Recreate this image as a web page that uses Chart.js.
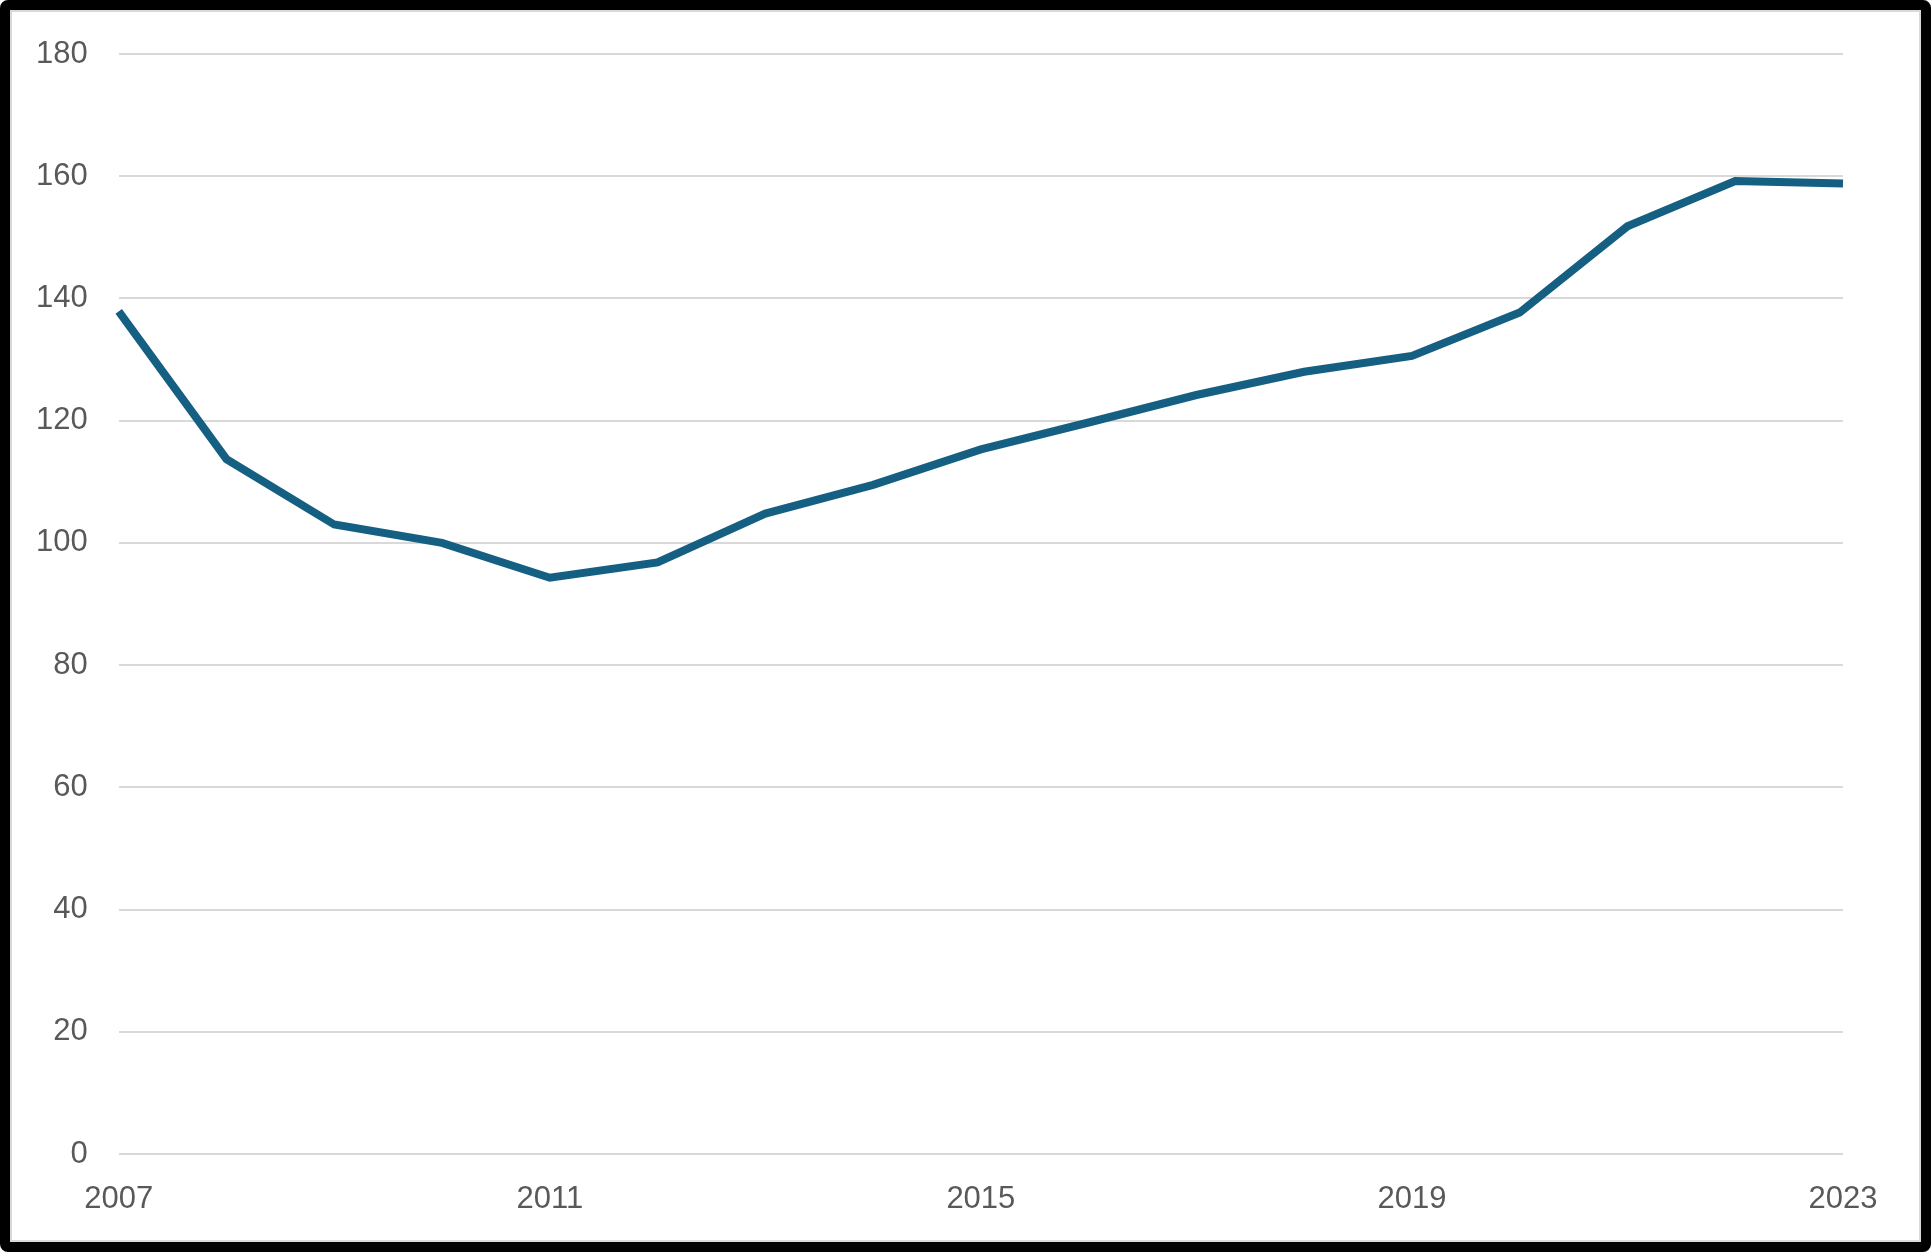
<!DOCTYPE html>
<html>
<head>
<meta charset="utf-8">
<title>Line chart 2007-2023</title>
<script src="https://cdn.jsdelivr.net/npm/chart.js@4"></script>
<style>
  html, body { margin: 0; padding: 0; background: #fff; overflow: hidden; }
  #grafico { position: absolute; left: 0; top: 0; }
  #moldura {
    position: absolute; left: 0; top: 0; width: 1931px; height: 1252px;
    box-sizing: border-box; border: 10px solid #000; border-radius: 8px;
    pointer-events: none;
  }
  #moldura div { width: 100%; height: 100%; box-sizing: border-box; border: 2px solid #d9d9d9; }
</style>
</head>
<body>
<canvas id="grafico" width="1931" height="1252"></canvas>
<div id="moldura"><div></div></div>
<script>
// Dados
const anos = ['2007', '2008', '2009', '2010', '2011', '2012', '2013', '2014', '2015',
              '2016', '2017', '2018', '2019', '2020', '2021', '2022', '2023'];
const valores = [137.9, 113.7, 103.0, 100.0, 94.3, 96.8, 104.8, 109.5, 115.3,
                 119.7, 124.2, 128.0, 130.6, 137.7, 151.8, 159.2, 158.8];
const ticksY = [0, 20, 40, 60, 80, 100, 120, 140, 160, 180];

const ctx = document.getElementById('grafico').getContext('2d');
new Chart(ctx, {
  type: 'line',
  data: {
    labels: anos,
    datasets: [{
      data: valores,
      borderColor: '#156082',
      borderWidth: 8,
      pointRadius: 0,
      tension: 0,
      fill: false
    }]
  },
  options: {
    responsive: false,
    animation: false,
    layout: { padding: { left: 5, right: 88, top: 54, bottom: 0 } },
    plugins: {
      legend: { display: false },
      tooltip: { enabled: false }
    },
    scales: {
      x: {
        afterFit: function (axis) { axis.height = 98; },
        grid: { display: false },
        border: { display: false },
        ticks: {
          autoSkip: false,
          maxRotation: 0,
          padding: 19,
          color: '#595959',
          font: { family: 'Liberation Sans', size: 31 },
          callback: function (v, i) { return i % 4 === 0 ? anos[i] : ''; }
        }
      },
      y: {
        min: ticksY[0],
        max: ticksY[ticksY.length - 1],
        afterBuildTicks: function (axis) { axis.ticks = ticksY.map(v => ({ value: v })); },
        grid: { color: '#d9d9d9', lineWidth: 2, drawTicks: false },
        border: { display: false },
        ticks: {
          padding: 31,
          color: '#595959',
          font: { family: 'Liberation Sans', size: 31 }
        }
      }
    }
  }
});
</script>
</body>
</html>
